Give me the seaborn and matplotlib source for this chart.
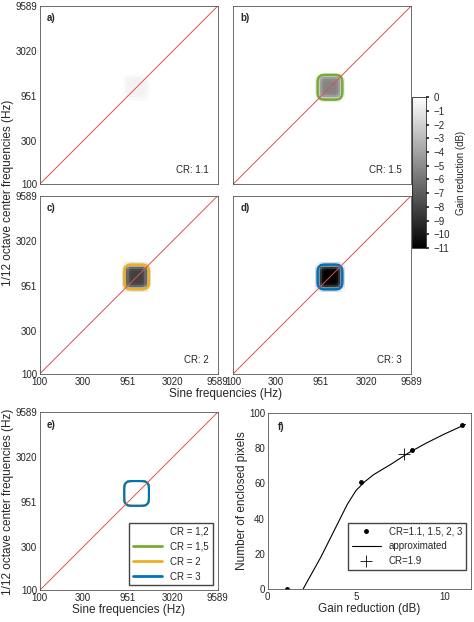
import numpy as np
import matplotlib
matplotlib.use("Agg")
import matplotlib.pyplot as plt
import seaborn as sns
from matplotlib.lines import Line2D

sns.set_theme(style="white")
plt.rcParams['font.family'] = ['Liberation Sans', 'DejaVu Sans']

ticks = [100, 300, 951, 3020, 9589]
panel_labels = ['a)', 'b)', 'c)', 'd)']
cr_labels = ['CR: 1.1', 'CR: 1.5', 'CR: 2', 'CR: 3']
peak_gain = [-0.6, -5.3, -8.2, -11.0]
contour_colors = [None, '#77AC30', '#EDB120', '#0072BD']
blob_center = 1200.0
# gain profile across 1/12 octave offsets from the blob centre (relative)
profile = [0.0, 0.15, 0.45, 0.8, 0.95, 1.0, 1.0, 1.0, 1.0, 1.0, 0.95, 0.8, 0.45, 0.15, 0.0]

gr_pts = [1.1, 5.3, 8.2, 11.0]
px_pts = [0, 61, 79, 93]
approx_x = [2.0, 3.0, 4.0, 4.5, 5.0, 5.5, 6.0, 7.0, 8.0, 9.0, 10.0, 11.2]
approx_y = [0, 18, 38, 48, 56, 61, 65, 71, 77.5, 83, 88, 93.5]
cr19 = (7.7, 76.5)

freqs = 100 * 2 ** (np.arange(80) / 12)
edges = 100 * 2 ** ((np.arange(81) - 0.5) / 12)

def gain_map(peak):
    g = np.zeros((80, 80))
    c = int(round(12 * np.log2(blob_center / 100)))
    p = np.array(profile)
    k = np.outer(p, p)
    h = len(p) // 2
    g[c - h:c + h + 1, c - h:c + h + 1] = peak * k
    return g

fig = plt.figure(figsize=(4.74, 6.22), dpi=100)
pos = [[0.084, 0.704, 0.375, 0.286], [0.492, 0.704, 0.375, 0.286],
       [0.084, 0.399, 0.375, 0.286], [0.492, 0.399, 0.375, 0.286]]
FS = 7
LFS = 8.5

def style_freq_ax(ax, xlabels=True, ylabels=True):
    ax.set_xscale('log'); ax.set_yscale('log')
    ax.set_xlim(100, 9589); ax.set_ylim(100, 9589)
    ax.set_xticks(ticks); ax.set_yticks(ticks)
    ax.minorticks_off()
    ax.set_xticklabels([str(t) for t in ticks] if xlabels else [], fontsize=FS)
    ax.set_yticklabels([str(t) for t in ticks] if ylabels else [], fontsize=FS)
    ax.tick_params(direction='in', length=2, pad=2)
    for s in ax.spines.values():
        s.set_color('#555555'); s.set_linewidth(0.6)
    ax.plot([100, 9589], [100, 9589], color='#e05050', lw=0.7)

mesh = None
for i in range(4):
    ax = fig.add_axes(pos[i])
    g = gain_map(peak_gain[i])
    mesh = ax.pcolormesh(edges, edges, g, cmap='gray', vmin=-11, vmax=0, shading='flat')
    if contour_colors[i]:
        ax.contour(freqs, freqs, g, levels=[peak_gain[i] * 0.3], colors=contour_colors[i],
                   linewidths=1.8, linestyles='solid')
    style_freq_ax(ax, xlabels=i >= 2, ylabels=i % 2 == 0)
    ax.text(0.04, 0.96, panel_labels[i], transform=ax.transAxes, fontsize=FS, fontweight='bold', va='top')
    ax.text(0.95, 0.05, cr_labels[i], transform=ax.transAxes, fontsize=FS, ha='right', va='bottom')

fig.text(0.476, 0.366, 'Sine frequencies (Hz)', ha='center', va='center', fontsize=LFS)
fig.text(0.005, 0.69, '1/12 octave center frequencies (Hz)', rotation=90, ha='left', va='center', fontsize=LFS)

cax = fig.add_axes([0.869, 0.601, 0.03, 0.243])
cb = fig.colorbar(mesh, cax=cax, ticks=list(range(0, -12, -1)))
cb.ax.tick_params(labelsize=FS, length=2)
cb.set_label('Gain reduction (dB)', fontsize=FS)
cb.outline.set_linewidth(0.6)

# panel e
ax = fig.add_axes([0.084, 0.051, 0.375, 0.286])
ax.set_facecolor('white')
for i in range(1, 4):
    g = gain_map(peak_gain[i])
    ax.contour(freqs, freqs, g, levels=[peak_gain[i] * 0.3], colors=contour_colors[i],
               linewidths=1.5, linestyles='solid')
style_freq_ax(ax)
ax.text(0.04, 0.96, 'e)', transform=ax.transAxes, fontsize=FS, fontweight='bold', va='top')
ax.set_xlabel('Sine frequencies (Hz)', fontsize=LFS, labelpad=1)
ax.set_ylabel('1/12 octave center frequencies (Hz)', fontsize=LFS, labelpad=1)
handles = [Line2D([], [], color='white', lw=2), Line2D([], [], color='#77AC30', lw=2),
           Line2D([], [], color='#EDB120', lw=2), Line2D([], [], color='#0072BD', lw=2)]
ax.legend(handles, ['CR = 1,2', 'CR = 1,5', 'CR = 2', 'CR = 3'], loc='lower right', fontsize=7,
          fancybox=False, edgecolor='#444444', framealpha=1, handlelength=3)

# panel f
ax = fig.add_axes([0.565, 0.053, 0.428, 0.283])
ax.plot(gr_pts, px_pts, 'o', color='black', ms=2.5, label='CR=1.1, 1.5, 2, 3')
ax.plot(approx_x, approx_y, '-', color='black', lw=0.8, label='approximated')
ax.plot([cr19[0]], [cr19[1]], '+', color='black', ms=9, mew=0.6, label='CR=1.9')
ax.set_xlim(0, 11.5); ax.set_ylim(0, 100)
ax.set_xticks([0, 5, 10]); ax.set_yticks(range(0, 101, 20))
ax.tick_params(direction='in', length=2, labelsize=FS, pad=2)
for s in ax.spines.values():
    s.set_color('#555555'); s.set_linewidth(0.6)
ax.set_xlabel('Gain reduction (dB)', fontsize=LFS, labelpad=1)
ax.set_ylabel('Number of enclosed pixels', fontsize=LFS, labelpad=1)
ax.text(0.05, 0.95, 'f)', transform=ax.transAxes, fontsize=FS, fontweight='bold', va='top')
ax.legend(loc='lower right', bbox_to_anchor=(1.0, 0.08), fontsize=7, fancybox=False,
          edgecolor='#444444', framealpha=1, handlelength=3)

fig.savefig('out.png', dpi=100)
